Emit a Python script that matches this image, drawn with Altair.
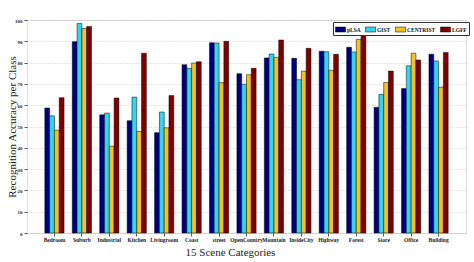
import altair as alt
import pandas as pd

categories = ["Bedroom", "Suburb", "Industrial", "Kitchen", "Livingroom", "Coast", "street",
              "OpenCountry", "Mountain", "InsideCity", "Highway", "Forest", "Store", "Office", "Building"]
methods = ["pLSA", "GIST", "CENTRIST", "LGFF"]
plsa = [58.7, 89.8, 55.5, 52.7, 47.1, 79.0, 89.3, 74.8, 82.2, 82.0, 85.3, 87.2, 59.0, 67.8, 83.9]
gist = [55.0, 98.4, 56.3, 63.8, 56.8, 77.3, 89.2, 69.8, 84.0, 72.0, 85.1, 85.0, 65.1, 78.5, 80.8]
centrist = [48.3, 96.0, 40.8, 47.7, 49.4, 79.8, 70.6, 74.3, 82.5, 76.0, 76.4, 90.9, 70.7, 84.4, 68.5]
lgff = [63.5, 97.0, 63.4, 84.4, 64.5, 80.4, 90.0, 77.3, 90.6, 86.7, 83.9, 95.0, 76.0, 81.2, 84.8]
colors = ["#00007f", "#33d4f0", "#f2c224", "#7f0000"]

rows = []
for series, vals in zip(methods, [plsa, gist, centrist, lgff]):
    for c, v in zip(categories, vals):
        rows.append({"Category": c, "Method": series, "Accuracy": v})
df = pd.DataFrame(rows)

serif = "Liberation Serif"

chart = alt.Chart(df).mark_bar(stroke="black", strokeWidth=0.5).encode(
    x=alt.X("Category:N", sort=categories,
            scale=alt.Scale(paddingInner=0.3, paddingOuter=0.65),
            axis=alt.Axis(title="15 Scene Categories", labelAngle=0, labelFont=serif,
                          labelFontWeight="bold", labelFontSize=5.5, labelColor="#222",
                          tickSize=3, tickColor="#555", domain=False, labelPadding=1,
                          titleFont=serif, titleFontSize=11, titleFontWeight="normal",
                          titleColor="#222", titleX=203, titleY=22,
                          titleBaseline="alphabetic", titleAlign="center")),
    xOffset=alt.XOffset("Method:N", sort=methods),
    y=alt.Y("Accuracy:Q",
            scale=alt.Scale(domain=[0, 100], nice=False),
            axis=alt.Axis(title="Recognition Accuracy per Class", values=list(range(0, 101, 10)),
                          labelFont=serif, labelFontWeight="bold", labelFontSize=5,
                          labelColor="#222", tickSize=3, tickColor="#555", domain=False,
                          gridDash=[1, 2], gridColor="#aaaaaa", gridWidth=0.6,
                          titleFont=serif, titleFontSize=11, titleFontWeight="normal",
                          titleColor="#222", titleX=-15, titleY=106.5, titleAngle=270,
                          titleAlign="center", titleBaseline="middle", labelPadding=2)),
    color=alt.Color("Method:N", sort=methods,
                    scale=alt.Scale(domain=methods, range=colors),
                    legend=alt.Legend(title=None, orient="none", legendX=306, legendY=2,
                                      direction="horizontal", columns=4,
                                      symbolType="M-1,-0.5H1V0.5H-1Z", symbolSize=100,
                                      symbolStrokeColor="black", symbolStrokeWidth=0.5,
                                      symbolOpacity=1, labelFont=serif, labelFontWeight="bold",
                                      labelFontSize=5.5, labelColor="#111", labelOffset=1,
                                      columnPadding=3, padding=2, strokeColor="#333",
                                      fillColor="white", symbolOffset=0)),
).properties(
    width=439, height=213,
    autosize=alt.AutoSizeParams(type="none"),
    padding={"left": 27, "top": 20, "right": 8, "bottom": 29},
).configure_view(stroke="#444", strokeWidth=1).configure(background="white")

chart.save("out.html", embed_options={"renderer": "svg", "actions": False})
